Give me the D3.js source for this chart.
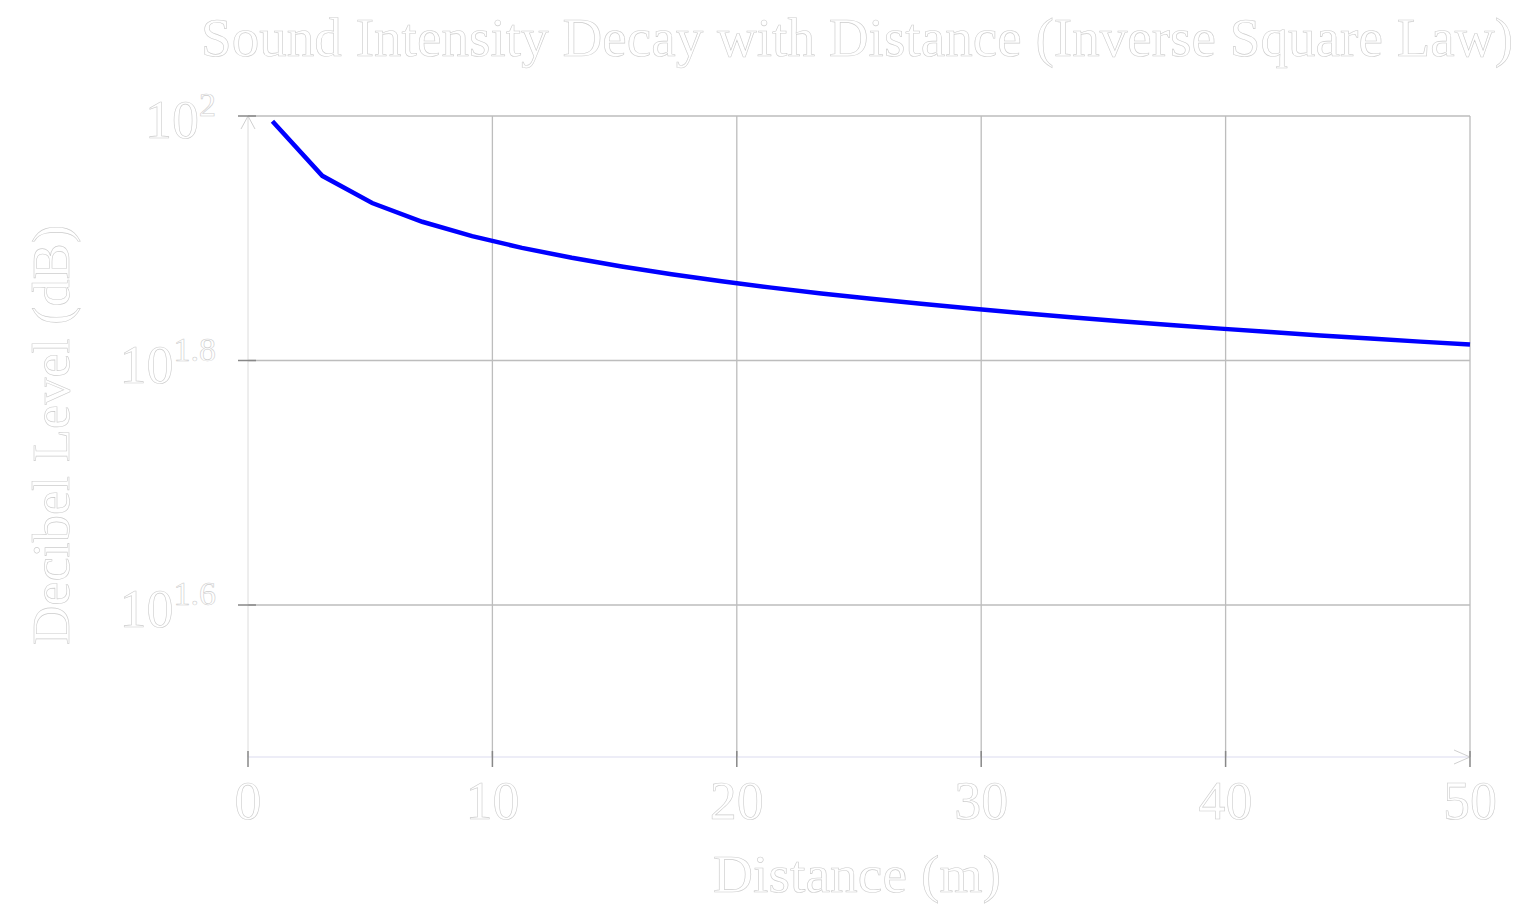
<!DOCTYPE html>
<html>
<head>
<meta charset="utf-8">
<script src="https://cdn.jsdelivr.net/npm/d3@7"></script>
<style>
  body { margin: 0; background: #fff; }
  .txt { font-family: "Liberation Serif", "DejaVu Serif", serif; fill: #fff; stroke: #cdcdcd; stroke-width: 0.6px; }
</style>
</head>
<body>
<div id="chart"></div>
<script>
// distance in metres
var distances = [1, 3.04, 5.08, 7.13, 9.17, 11.21, 13.25, 15.29, 17.33, 19.38, 21.42, 23.46, 25.5,
                 27.54, 29.58, 31.63, 33.67, 35.71, 37.75, 39.79, 41.83, 43.88, 45.92, 47.96, 50]
// decibel level
var levels = [99.0, 89.34, 84.88, 81.94, 79.75, 78.01, 76.56, 75.31, 74.22, 73.25, 72.38, 71.59, 70.87,
              70.2, 69.58, 69.0, 68.46, 67.94, 67.46, 67.0, 66.57, 66.15, 65.76, 65.38, 65.02]
var xTicks = [0, 10, 20, 30, 40, 50]
var yTickExps = ["1.6", "1.8", "2"]

var title = "Sound Intensity Decay with Distance (Inverse Square Law)"
var xLabel = "Distance (m)"
var yLabel = "Decibel Level (dB)"

var width = 1536, height = 921
var margins = {top: 116, right: 66, bottom: 164, left: 248}

var datapoints = distances.map(function (d, i) { return {x: d, y: levels[i]} })

var svg = d3.select("#chart").append("svg")
            .attr("width", width)
            .attr("height", height)

var scalex = d3.scaleLinear()
               .domain([0, 50])
               .range([margins.left, width - margins.right])

var scaley = d3.scaleLog()
               .domain([29.9, 100])
               .range([height - margins.bottom, margins.top])

var x0 = scalex(0), x1 = scalex(50)
var y0 = scaley(29.9), y1 = scaley(100)

// grid
var yTickVals = yTickExps.map(function (e) { return Math.pow(10, +e) })
svg.append("g").selectAll("line").data(xTicks.slice(1))
   .enter().append("line")
   .attr("x1", function (d) { return scalex(d) })
   .attr("x2", function (d) { return scalex(d) })
   .attr("y1", y1).attr("y2", y0)
   .attr("stroke", "#bdbdbd").attr("stroke-width", 1.3)
svg.append("g").selectAll("line").data(yTickVals)
   .enter().append("line")
   .attr("x1", x0).attr("x2", x1)
   .attr("y1", function (d) { return scaley(d) })
   .attr("y2", function (d) { return scaley(d) })
   .attr("stroke", "#bdbdbd").attr("stroke-width", 1.3)

// axes with arrows
svg.append("line")
   .attr("x1", x0).attr("x2", x0).attr("y1", y0).attr("y2", y1)
   .attr("stroke", "#dcdcdc").attr("stroke-width", 1)
svg.append("path")
   .attr("d", "M" + (x0 - 7) + "," + (y1 + 13) + " L" + x0 + "," + y1 + " L" + (x0 + 7) + "," + (y1 + 13))
   .attr("fill", "none").attr("stroke", "#d0d0d0")
svg.append("line")
   .attr("x1", x0).attr("x2", x1).attr("y1", y0).attr("y2", y0)
   .attr("stroke", "#dcdcf0").attr("stroke-width", 1.2)
svg.append("path")
   .attr("d", "M" + (x1 - 16) + "," + (y0 - 7) + " L" + x1 + "," + y0 + " L" + (x1 - 16) + "," + (y0 + 7))
   .attr("fill", "none").attr("stroke", "#d0d0d0")

// tick marks
svg.append("g").selectAll("line").data(xTicks)
   .enter().append("line")
   .attr("x1", function (d) { return scalex(d) })
   .attr("x2", function (d) { return scalex(d) })
   .attr("y1", y0 - 6).attr("y2", y0 + 10)
   .attr("stroke", "#888").attr("stroke-width", 1.5)
svg.append("g").selectAll("line").data(yTickVals)
   .enter().append("line")
   .attr("x1", x0 - 10).attr("x2", x0 + 8)
   .attr("y1", function (d) { return scaley(d) })
   .attr("y2", function (d) { return scaley(d) })
   .attr("stroke", "#888").attr("stroke-width", 1.5)

// tick labels
svg.append("g").selectAll("text").data(xTicks)
   .enter().append("text")
   .attr("class", "txt")
   .attr("x", function (d) { return scalex(d) })
   .attr("y", y0 + 62)
   .attr("text-anchor", "middle")
   .attr("font-size", 54)
   .text(function (d) { return d })

var ylab = svg.append("g").selectAll("text").data(yTickExps)
   .enter().append("text")
   .attr("class", "txt")
   .attr("x", 216)
   .attr("y", function (e) { return scaley(Math.pow(10, +e)) + 22 })
   .attr("text-anchor", "end")
   .attr("font-size", 54)
ylab.append("tspan").text("10")
ylab.append("tspan").attr("dy", -22).attr("font-size", 34).text(function (e) { return e })

// line
var linegenerator = d3.line()
                      .x(function (d) { return scalex(d.x) })
                      .y(function (d) { return scaley(d.y) })
svg.append("path")
   .attr("d", linegenerator(datapoints))
   .attr("stroke", "#0000ff")
   .attr("stroke-width", 4.5)
   .attr("fill", "none")

// titles
svg.append("text").attr("class", "txt")
   .attr("x", 857).attr("y", 56)
   .attr("text-anchor", "middle")
   .attr("font-size", 54)
   .attr("textLength", 1312).attr("lengthAdjust", "spacingAndGlyphs")
   .text(title)
svg.append("text").attr("class", "txt")
   .attr("x", 857).attr("y", 892)
   .attr("text-anchor", "middle")
   .attr("font-size", 52)
   .attr("textLength", 288).attr("lengthAdjust", "spacingAndGlyphs")
   .text(xLabel)
svg.append("text").attr("class", "txt")
   .attr("transform", "translate(69,435) rotate(-90)")
   .attr("text-anchor", "middle")
   .attr("font-size", 52)
   .attr("textLength", 420).attr("lengthAdjust", "spacingAndGlyphs")
   .text(yLabel)
</script>
</body>
</html>
